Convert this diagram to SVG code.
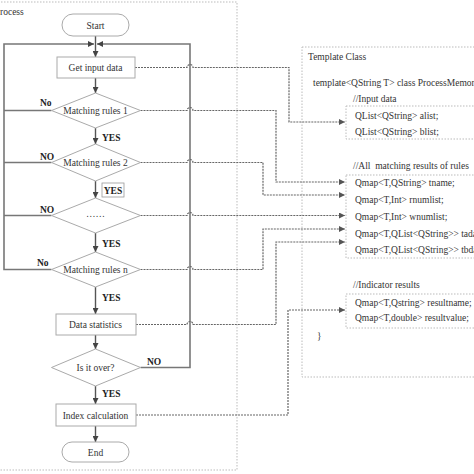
<svg xmlns="http://www.w3.org/2000/svg" width="474" height="474" viewBox="0 0 474 474">
<defs>
<style>
text{font-family:"Liberation Serif","Times New Roman",serif;font-size:9.5px;fill:#333}
.c{text-anchor:middle}
.b{font-weight:bold;fill:#222}
.shape{fill:#fff;stroke:#aaa;stroke-width:1}
.flow{fill:none;stroke:#555;stroke-width:1.4}
.loop{fill:none;stroke:#777;stroke-width:1.6}
.dash{fill:none;stroke:#666;stroke-width:1.2;stroke-dasharray:2 1}
.frame{fill:none;stroke:#bbb;stroke-width:1;stroke-dasharray:1.5 1.5}
</style>
<marker id="ah" viewBox="0 0 10 10" refX="10" refY="5" markerWidth="6" markerHeight="6" markerUnits="userSpaceOnUse" orient="auto">
<path d="M0,0 L10,5 L0,10 z" fill="#444"/>
</marker>
<marker id="ad" viewBox="0 0 10 10" refX="10" refY="5" markerWidth="7" markerHeight="6" markerUnits="userSpaceOnUse" orient="auto">
<path d="M0,0 L10,5 L0,10 z" fill="#555"/>
</marker>
</defs>
<rect width="474" height="474" fill="#fff"/>
<g id="process-frame">
<rect class="frame" x="-5" y="2" width="242" height="468"/>
<text x="0" y="15">rocess</text>
</g>
<g id="template-frame">
<rect class="frame" x="302" y="47" width="200" height="330"/>
<text x="308" y="60">Template Class</text>
<text x="313" y="86">template&lt;QString T&gt; class ProcessMemor</text>
<text x="317" y="339">}</text>
</g>
<g id="connectors">
<line class="flow" x1="95.5" y1="36" x2="95.5" y2="44"/>
<line class="flow" x1="95.5" y1="44" x2="95.5" y2="57" marker-end="url(#ah)"/>
<line class="flow" x1="95.5" y1="78" x2="95.5" y2="93" marker-end="url(#ah)"/>
<line class="flow" x1="95.5" y1="128" x2="95.5" y2="144" marker-end="url(#ah)"/>
<line class="flow" x1="95.5" y1="181" x2="95.5" y2="198" marker-end="url(#ah)"/>
<line class="flow" x1="95.5" y1="233" x2="95.5" y2="252" marker-end="url(#ah)"/>
<line class="flow" x1="95.5" y1="287" x2="95.5" y2="314" marker-end="url(#ah)"/>
<line class="flow" x1="95.5" y1="335" x2="95.5" y2="349" marker-end="url(#ah)"/>
<line class="flow" x1="95.5" y1="386" x2="95.5" y2="404" marker-end="url(#ah)"/>
<line class="flow" x1="95.5" y1="426" x2="95.5" y2="442" marker-end="url(#ah)"/>
<path class="loop" d="M51.5,110.5 H4 M51.5,162.5 H4 M51.5,215.5 H4 M51.5,269.5 H4 V44 H94" marker-end="url(#ah)"/>
<path class="loop" d="M140.5,367.5 H190 V44 H97" marker-end="url(#ah)"/>
<path class="dash" d="M135,67.5 H187 a3,3 0 0 1 6,0 H289 V122 H345" marker-end="url(#ad)"/>
<path class="dash" d="M140.5,110.5 H187 a3,3 0 0 1 6,0 H276 V182 H345" marker-end="url(#ad)"/>
<path class="dash" d="M140.5,162.5 H187 a3,3 0 0 1 6,0 H263 V195 H345" marker-end="url(#ad)"/>
<path class="dash" d="M140.5,215.5 H187 a3,3 0 0 1 6,0 H345" marker-end="url(#ad)"/>
<path class="dash" d="M140.5,269.5 H187 a3,3 0 0 1 6,0 H263 V229 H345" marker-end="url(#ad)"/>
<path class="dash" d="M136,324.5 H187 a3,3 0 0 1 6,0 H276 V242 H345" marker-end="url(#ad)"/>
<path class="dash" d="M136,415 H288 V310 H345" marker-end="url(#ad)"/>
</g>
<g id="start"><rect class="shape" x="62" y="14" width="67" height="22" rx="11"/><text class="c" x="95.5" y="28.5">Start</text></g>
<g id="get-input"><rect class="shape" x="57" y="57" width="78" height="21"/><text class="c" x="95.5" y="71">Get input data</text></g>
<g id="rule1"><polygon class="shape" points="95.5,93 140.5,110.5 95.5,128 51.5,110.5"/><text class="c" x="95.5" y="114">Matching rules 1</text>
<text class="b" x="40" y="105.5">No</text><text class="b" x="102" y="140.5">YES</text></g>
<g id="rule2"><polygon class="shape" points="95.5,144 140.5,162.5 95.5,181 51.5,162.5"/><text class="c" x="95.5" y="166">Matching rules 2</text>
<text class="b" x="40" y="159.5">NO</text>
<rect x="102" y="183" width="22" height="14" fill="#fff" stroke="#999" stroke-width="0.8"/><text class="b c" x="113" y="193.5">YES</text></g>
<g id="rule-dots"><polygon class="shape" points="95.5,198 140.5,215.5 95.5,233 51.5,215.5"/><text class="c" x="95.5" y="217">……</text>
<text class="b" x="40" y="212.5">NO</text><text class="b" x="102" y="246.5">YES</text></g>
<g id="rule-n"><polygon class="shape" points="95.5,252 140.5,269.5 95.5,287 51.5,269.5"/><text class="c" x="95.5" y="273">Matching rules n</text>
<text class="b" x="37" y="265.5">No</text><text class="b" x="102" y="300.5">YES</text></g>
<g id="data-stat"><rect class="shape" x="56" y="314" width="80" height="21"/><text class="c" x="95.5" y="328">Data statistics</text></g>
<g id="is-over"><polygon class="shape" points="95.5,349 140.5,367.5 95.5,386 51.5,367.5"/><text class="c" x="95.5" y="371">Is it over?</text>
<text class="b" x="147" y="364.5">NO</text><text class="b" x="102" y="396.5">YES</text></g>
<g id="index-calc"><rect class="shape" x="56" y="404" width="80" height="22"/><text class="c" x="95.5" y="418.5">Index calculation</text></g>
<g id="end"><rect class="shape" x="62" y="442" width="67" height="20" rx="10"/><text class="c" x="95.5" y="455.5">End</text></g>
<g id="input-data">
<text x="353" y="101.5">//Input data</text>
<rect class="frame" x="346" y="106" width="200" height="33"/>
<text x="355" y="118.5">QList&lt;QString&gt; alist;</text>
<text x="355" y="134.5">QList&lt;QString&gt; blist;</text>
</g>
<g id="matching-results">
<text x="353" y="169" xml:space="preserve">//All  matching results of rules</text>
<rect class="frame" x="346" y="175" width="200" height="83"/>
<text x="355" y="186">Qmap&lt;T,QString&gt; tname;</text>
<text x="355" y="202.5">Qmap&lt;T,Int&gt; rnumlist;</text>
<text x="355" y="219.5">Qmap&lt;T,Int&gt; wnumlist;</text>
<text x="355" y="236.5">Qmap&lt;T,QList&lt;QString&gt;&gt; tada</text>
<text x="355" y="253">Qmap&lt;T,QList&lt;QString&gt;&gt; tbda</text>
</g>
<g id="indicator-results">
<text x="353" y="287.5">//Indicator results</text>
<rect class="frame" x="346" y="294" width="200" height="34"/>
<text x="355" y="305.5">Qmap&lt;T,Qstring&gt; resultname;</text>
<text x="355" y="321">Qmap&lt;T,double&gt; resultvalue;</text>
</g>
</svg>
